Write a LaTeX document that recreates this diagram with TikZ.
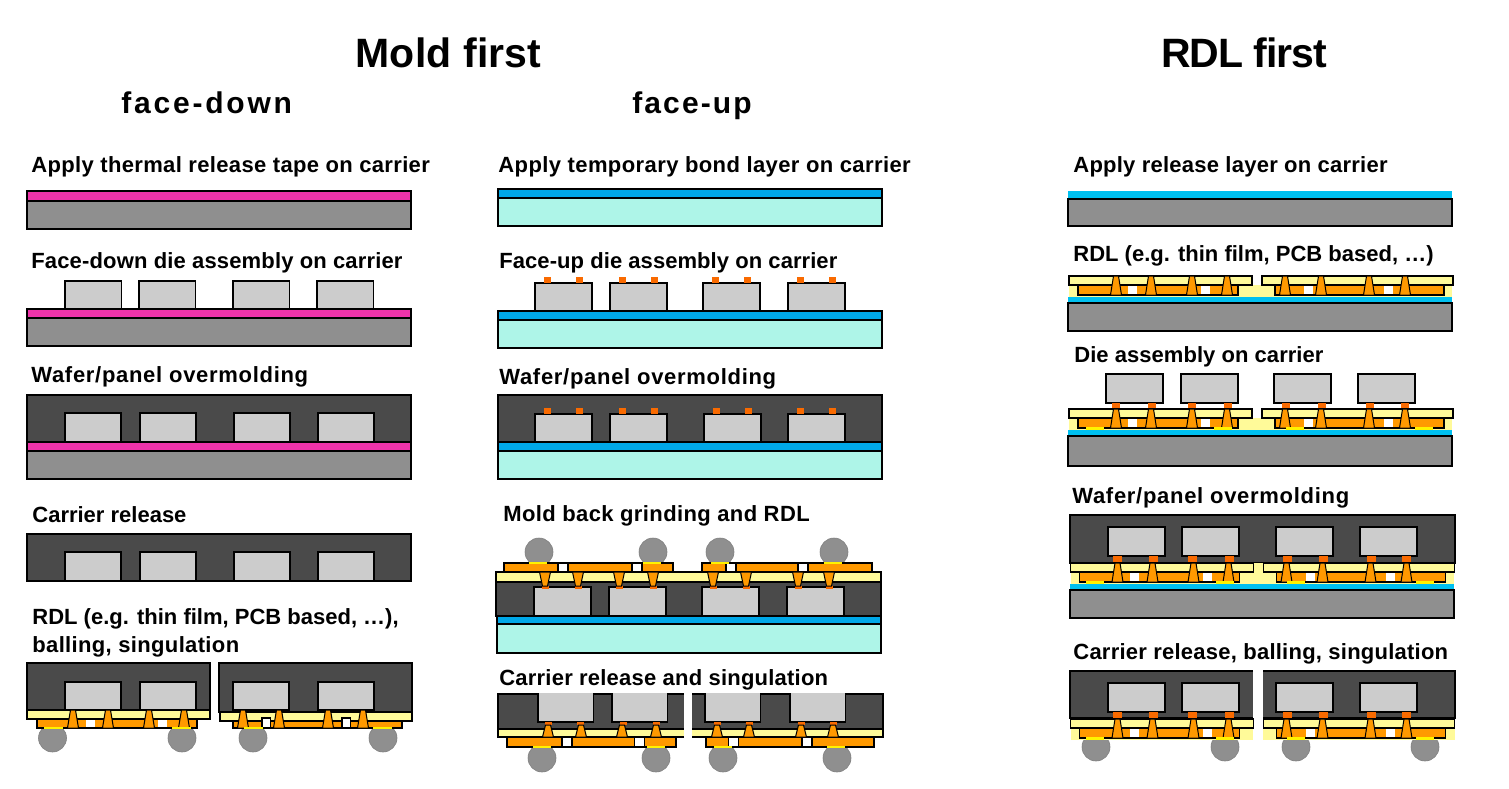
\documentclass[tikz,border=0pt]{standalone}
\usepackage{fontspec}
\setmainfont{Liberation Sans}
\definecolor{tapecol}{HTML}{EE33AA}
\definecolor{carriercol}{HTML}{8F8F8F}
\definecolor{bondcol}{HTML}{00A8E8}
\definecolor{glasscol}{HTML}{AEF5E8}
\definecolor{releasecol}{HTML}{00C0F0}
\definecolor{moldcol}{HTML}{4A4A4A}
\definecolor{diecol}{HTML}{CCCCCC}
\definecolor{filmcol}{HTML}{FFFA99}
\definecolor{coppercol}{HTML}{FF9900}
\definecolor{padcol}{HTML}{F96A00}
\tikzset{
    title/.style={anchor=base west, inner sep=0pt, font=\addfontfeatures{LetterSpace=#1}\fontsize{20.5}{24}\selectfont\bfseries},
    subtitle/.style={anchor=base west, inner sep=0pt, font=\addfontfeatures{LetterSpace=#1}\fontsize{15}{18}\selectfont\bfseries},
    steplabel/.style={anchor=base west, inner sep=0pt, font=\addfontfeatures{LetterSpace=#1}\fontsize{11}{13}\selectfont\bfseries},
    steplabel/.default=0,
    outline/.style={draw=black, line width=0.8pt},
    carrier/.style={outline, fill=carriercol},
    tape/.style={outline, fill=tapecol},
    bondlayer/.style={outline, fill=bondcol},
    glass/.style={outline, fill=glasscol},
    release/.style={fill=releasecol},
    mold/.style={outline, fill=moldcol},
    die/.style={outline, fill=diecol},
    film/.style={outline, fill=filmcol},
    pale/.style={fill=filmcol},
    copper/.style={outline, fill=coppercol},
    gapbox/.style={outline, fill=white},
    gapplain/.style={fill=white},
    pad/.style={fill=padcol},
    viabar/.style={draw=black, line width=0.5pt, fill=coppercol},
    ball/.style={draw=black!50, line width=0.3pt, fill=carriercol},
    solder/.style={fill=yellow}
}
% narrow end, then wide end of one via
\newcommand{\viashape}[3]{\draw[viabar] (#1-2.5,#2) -- (#1+2.5,#2) -- (#1+5.5,#3) -- (#1-5.5,#3) -- cycle;}
% both RDL pieces of the right column
\newcommand{\rdlpair}[2]{
  \begin{scope}[shift={(#1,#2)}]
    \draw[film] (1069,0) rectangle (1252,9);
    \draw[film] (1262,0) rectangle (1453,9);
    \draw[copper] (1078,9) rectangle (1238,19);
    \draw[copper] (1275,9) rectangle (1444,19);
    \foreach \x in {1128,1201,1304,1384} \fill[gapplain] (\x,10) rectangle +(9,8);
    \foreach \x in {1116,1151,1192,1227,1285,1321,1369,1405} {\viashape{\x}{0}{19}}
  \end{scope}
}
\begin{document}
\begin{tikzpicture}[x=0.5pt, y=-0.5pt]
\useasboundingbox (0,0) rectangle (1509,788);

% Titles
\node (moldfirst) [title=0.5] at (355,67) {Mold first};
\node (rdlfirst) [title=-2.7] at (1161,67) {RDL first};
\node (facedown) [subtitle=9.3] at (121,113) {face-down};
\node (faceup) [subtitle=7] at (632,113) {face-up};

% Face-down, tape
\node (fd1) [steplabel=1.6] at (31,172) {Apply thermal release tape on carrier};
\draw[tape] (27,191) rectangle (411,201);
\draw[carrier] (27,201) rectangle (411,229);

% Face-down, die assembly
\node (fd2) [steplabel=0.7] at (31,268) {Face-down die assembly on carrier};
\foreach \x in {65,139,233,317} \draw[die] (\x,281) rectangle +(56.5,28);
\draw[tape] (27,309) rectangle (411,318);
\draw[carrier] (27,318) rectangle (411,346);

% Face-down, overmolding
\node (fd3) [steplabel=3.2] at (31,382) {Wafer/panel overmolding};
\draw[mold] (27,395) rectangle (411,442);
\foreach \x in {65,140,234,318} \draw[die] (\x,413) rectangle +(56,29);
\draw[tape] (27,442) rectangle (411,451);
\draw[carrier] (27,451) rectangle (411,479);

% Face-down, carrier release
\node (fd4) [steplabel] at (32,522) {Carrier release};
\draw[mold] (27,534) rectangle (411,581);
\foreach \x in {65,140,234,318} \draw[die] (\x,552) rectangle +(56,29);

% Face-down, RDL and balls
\node (fd5a) [steplabel] at (32,624) {RDL (e.g. thin film, PCB based, \ldots),};
\node (fd5b) [steplabel=1.6] at (32,652) {balling, singulation};
\foreach \x in {52.5,182,253,383} \draw[ball] (\x,738) circle (14);
\draw[mold] (27,663) rectangle (210,710);
\foreach \x in {65,140} \draw[die] (\x,682) rectangle +(56,28);
\draw[film] (27,710) rectangle (210,719);
\draw[copper] (37,719) rectangle (197,728);
\foreach \x in {86,158} \fill[gapplain] (\x,720) rectangle +(8.5,7);
\foreach \x in {73,108,149,184} {\viashape{\x}{710}{728}}
\foreach \x in {44,172} \fill[solder] (\x,727) rectangle +(19,2);
\draw[mold] (219,663) rectangle (412,712);
\foreach \x in {233,318} \draw[die] (\x,682) rectangle +(56,28);
\draw[film] (220,712) rectangle (412,721);
\draw[copper] (233,721) rectangle (402,728);
\foreach \x in {262,342} \draw[gapbox] (\x,718) rectangle +(8.5,10);
\foreach \x in {243,279,328,363} {\viashape{\x}{710}{728}}
\foreach \x in {244,373} \fill[solder] (\x,727) rectangle +(19,2);

% Face-up, bond layer
\node (fu1) [steplabel=1.85] at (498,172) {Apply temporary bond layer on carrier};
\draw[bondlayer] (498,189) rectangle (882,198);
\draw[glass] (498,198) rectangle (882,226);

% Face-up, die assembly
\node (fu2) [steplabel=0.3] at (499,268) {Face-up die assembly on carrier};
\foreach \x in {535,610,703,788} {
  \draw[die] (\x,283) rectangle +(57,28);
  \fill[pad] (\x+9,277) rectangle +(6.5,6);
  \fill[pad] (\x+41,277) rectangle +(6.5,6);
}
\draw[bondlayer] (498,311) rectangle (882,320);
\draw[glass] (498,320) rectangle (882,348);

% Face-up, overmolding
\node (fu3) [steplabel=3.2] at (499,384) {Wafer/panel overmolding};
\draw[mold] (498,395) rectangle (882,442);
\foreach \x in {535,610,704,788} {
  \draw[die] (\x,414) rectangle +(57,28);
  \fill[pad] (\x+9,408) rectangle +(6.5,6);
  \fill[pad] (\x+41,408) rectangle +(6.5,6);
}
\draw[bondlayer] (498,442) rectangle (882,451);
\draw[glass] (498,451) rectangle (882,479);

% Face-up, grinding and RDL
\node (fu4) [steplabel=1.75] at (503,521) {Mold back grinding and RDL};
\foreach \x in {539,653,720,834} \draw[ball] (\x,552) circle (14);
\draw[mold] (496,582) rectangle (881,616);
\foreach \x in {534,609,702,787} \draw[die] (\x,587) rectangle +(57,29);
\foreach \x in {542,575,616,650,710,743,795,826} \fill[pad] (\x,586) rectangle +(7,3);
\draw[film] (496,572) rectangle (881,582);
\foreach \x in {558,632,726,798} \draw[gapbox] (\x,563) rectangle +(10,9);
\draw[copper] (504,563) rectangle (558,572);
\draw[copper] (568,563) rectangle (632,572);
\draw[copper] (642,563) rectangle (673,572);
\draw[copper] (702,563) rectangle (726,572);
\draw[copper] (736,563) rectangle (798,572);
\draw[copper] (808,563) rectangle (872,572);
\foreach \x in {529,643,711,824} \fill[solder] (\x,562) rectangle +(18,2);
\foreach \x in {545,578,619,653,713,746,798,829} {\viashape{\x}{586}{572}}
\draw[bondlayer] (497,616) rectangle (881,624);
\draw[glass] (497,624) rectangle (881,653);

% Face-up, release and singulation
\node (fu5) [steplabel=1] at (499,685) {Carrier release and singulation};
\foreach \x in {542,656,723,837} \draw[ball] (\x,758) circle (14);
\fill[moldcol] (498,694) rectangle (684,729);
\draw[outline] (684,694) -- (498,694) -- (498,729) -- (684,729);
\fill[moldcol] (692,694) rectangle (883,729);
\draw[outline] (692,694) -- (883,694) -- (883,729) -- (692,729);
\foreach \x in {538,612,705,790} {
  \fill[diecol] (\x,693) rectangle +(55.5,29);
  \draw[outline] (\x,693) -- (\x,722) -- (\x+55.5,722) -- (\x+55.5,693);
}
\foreach \x in {545,577,620,653,714,746,798,830} \fill[pad] (\x,722) rectangle +(7,3);
\fill[filmcol] (499,730) rectangle (684,737);
\draw[outline] (684,737) -- (498,737) -- (498,729);
\fill[filmcol] (692,730) rectangle (883,737);
\draw[outline] (692,737) -- (883,737) -- (883,729);
\foreach \x in {562,634.5,728.5,802} \draw[gapbox] (\x,737) rectangle +(10,10);
\draw[copper] (507,737) rectangle (562,747);
\draw[copper] (572,737) rectangle (634.5,747);
\draw[copper] (644.5,737) rectangle (676,747);
\draw[copper] (706,737) rectangle (728.5,747);
\draw[copper] (738.5,737) rectangle (802,747);
\draw[copper] (812,737) rectangle (874,747);
\foreach \x in {533,647,714,827} \fill[solder] (\x,746) rectangle +(18,2);
\foreach \x in {548,581,622,656,717,749,801,833} {\viashape{\x}{725}{737}}

% RDL first, release layer
\node (rf1) [steplabel=1.1] at (1073,172) {Apply release layer on carrier};
\fill[release] (1068,191) rectangle (1452,199);
\draw[carrier] (1068,199) rectangle (1452,226);

% RDL first, RDL
\node (rf2) [steplabel] at (1073,261) {RDL (e.g. thin film, PCB based, \ldots)};
\fill[pale] (1069,285) rectangle (1452,297);
\rdlpair{0}{276}
\fill[release] (1068,297) rectangle (1452,303);
\draw[carrier] (1068,303) rectangle (1452,331);

% RDL first, die assembly
\node (rf3) [steplabel=0.2] at (1074,362) {Die assembly on carrier};
\foreach \x in {1106,1181,1274,1358} \draw[die] (\x,374) rectangle +(57,29);
\foreach \x in {1112,1148,1188,1224,1282,1318,1366,1401} \fill[pad] (\x,403) rectangle +(8,6);
\fill[pale] (1069,418) rectangle (1452,430);
\rdlpair{0}{409}
\foreach \x in {1086,1214,1286,1415} \fill[solder] (\x,427) rectangle +(18,3);
\fill[release] (1068,430) rectangle (1452,436);
\draw[carrier] (1068,436) rectangle (1452,466);

% RDL first, overmolding
\node (rf4) [steplabel=3.2] at (1072,503) {Wafer/panel overmolding};
\draw[mold] (1070,515) rectangle (1455,563);
\foreach \x in {1108,1182,1276,1360} \draw[die] (\x,527) rectangle +(57,29);
\foreach \x in {1113,1149,1188,1225,1283,1319,1367,1402} \fill[pad] (\x,556) rectangle +(9,7);
\fill[pale] (1071,563) rectangle (1454,584);
\rdlpair{1.5}{563}
\foreach \x in {1086,1216,1287,1416} \fill[solder] (\x,581) rectangle +(18,3);
\fill[release] (1070,584) rectangle (1454,590);
\draw[carrier] (1070,590) rectangle (1454,618);

% RDL first, release and balls
\node (rf5) [steplabel=1.1] at (1073,659) {Carrier release, balling, singulation};
\foreach \x in {1096,1225,1296,1425} \draw[ball] (\x,747) circle (14);
\fill[moldcol] (1070,671) rectangle (1253,718);
\draw[outline] (1253,671) -- (1070,671) -- (1070,718) -- (1253,718);
\fill[moldcol] (1263,671) rectangle (1455,718);
\draw[outline] (1263,671) -- (1455,671) -- (1455,718) -- (1263,718);
\foreach \x in {1108,1182,1276,1360} \draw[die] (\x,683) rectangle +(57,29);
\foreach \x in {1113,1149,1188,1225,1283,1319,1367,1402} \fill[pad] (\x,712) rectangle +(9,6);
\fill[pale] (1071,728) rectangle (1253,740);
\fill[pale] (1263,728) rectangle (1455,740);
\rdlpair{1.5}{719}
\foreach \x in {1086,1216,1287,1416} \fill[solder] (\x,737) rectangle +(18,3);

\end{tikzpicture}
\end{document}
